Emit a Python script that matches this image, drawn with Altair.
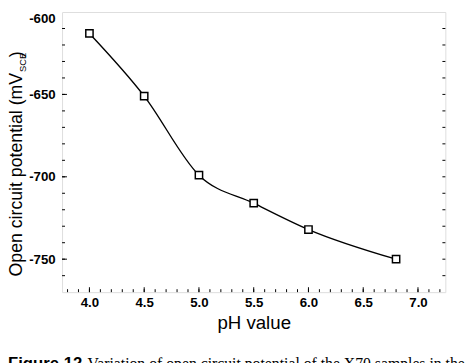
import altair as alt
import pandas as pd

# data
ph = [4.0, 4.5, 5.0, 5.5, 6.0, 6.8]
ocp = [-613, -651, -699, -716, -732, -750]

x_major = [4.0, 4.5, 5.0, 5.5, 6.0, 6.5, 7.0]
x_minor = [round(3.8 + 0.1 * i, 1) for i in range(35)]
y_labels = [-750, -700, -650, -600]
y_major = [-750, -700, -650]
y_minor = list(range(-760, -600, 10))

W, H = 390, 285
TOP = 1
FONT = "Liberation Sans"

df = pd.DataFrame({"ph": ph, "ocp": ocp})
xs = alt.Scale(domain=[3.75, 7.25], nice=False, zero=False)
ys = alt.Scale(domain=[-770, -600], nice=False, zero=False)

line = alt.Chart(df).mark_line(interpolate="monotone", color="black", strokeWidth=1.4).encode(
    x=alt.X("ph:Q", scale=xs,
            axis=alt.Axis(values=x_major, format=".1f", ticks=False, domain=False, grid=False,
                          labelFont=FONT, labelFontSize=13.5, labelFontWeight="bold",
                          labelColor="black", labelPadding=4,
                          title="pH value", titleFont=FONT, titleFontSize=19,
                          titleFontWeight="normal", titleColor="black", titlePadding=5)),
    y=alt.Y("ocp:Q", scale=ys,
            axis=alt.Axis(values=y_labels, labelExpr="'' + datum.value", ticks=False,
                          domain=False, grid=False, labelFlush=True,
                          labelFont=FONT, labelFontSize=13.5, labelFontWeight="bold",
                          labelColor="black", labelPadding=7, title=None)),
)
pts = alt.Chart(df).mark_point(shape="square", filled=True, fill="white", stroke="black",
                               strokeWidth=1.5, size=55, opacity=1).encode(
    x=alt.X("ph:Q", scale=xs), y=alt.Y("ocp:Q", scale=ys))

xmin_df = pd.DataFrame({"v": x_minor})
xmaj_df = pd.DataFrame({"v": x_major})
ymin_df = pd.DataFrame({"v": y_minor})
ymaj_df = pd.DataFrame({"v": y_major})

def xticks(d, ln):
    return alt.Chart(d).mark_rule(color="black", strokeWidth=1).encode(
        x=alt.X("v:Q", scale=xs), y=alt.value(H), y2=alt.value(H - ln))

def yticks(d, ln, right=False):
    x0 = W if right else 0
    x1 = W - ln if right else ln
    return alt.Chart(d).mark_rule(color="black", strokeWidth=1).encode(
        y=alt.Y("v:Q", scale=ys), x=alt.value(x0), x2=alt.value(x1))

tick_layers = [xticks(xmin_df, 3), xticks(xmaj_df, 5),
               yticks(ymin_df, 3), yticks(ymaj_df, 5),
               yticks(ymin_df, 3, True)]

# y title with subscript (page coordinates minus plot origin)
oy = 8 + TOP
t_main = alt.Chart(pd.DataFrame({"t": ["Open circuit potential (mV"]})).mark_text(
    angle=270, align="left", baseline="alphabetic", font=FONT, fontSize=18, color="black").encode(
    text="t:N", x=alt.value(-41), y=alt.value(278 - oy))
t_sub = alt.Chart(pd.DataFrame({"t": ["SCE"]})).mark_text(
    angle=270, align="left", baseline="alphabetic", font=FONT, fontSize=9.5, color="black").encode(
    text="t:N", x=alt.value(-37), y=alt.value(70 - oy))
t_par = alt.Chart(pd.DataFrame({"t": [")"]})).mark_text(
    angle=270, align="left", baseline="alphabetic", font=FONT, fontSize=18, color="black").encode(
    text="t:N", x=alt.value(-41), y=alt.value(55 - oy))

# caption (cut off at the bottom of the page)
cap1 = alt.Chart(pd.DataFrame({"t": ["Figure 12"]})).mark_text(
    align="left", baseline="alphabetic", font=FONT, fontSize=17, fontWeight="bold", color="black").encode(
    text="t:N", x=alt.value(-55), y=alt.value(372 - oy))
cap2 = alt.Chart(pd.DataFrame({"t": ["Variation of open circuit potential of the X70 samples in the different"]})).mark_text(
    align="left", baseline="alphabetic", font="Liberation Serif", fontSize=16, color="black").encode(
    text="t:N", x=alt.value(26), y=alt.value(372 - oy))

chart = alt.layer(*tick_layers, line, pts, t_main, t_sub, t_par, cap1, cap2).properties(
    width=W, height=H,
    autosize=alt.AutoSizeParams(type="none"),
    padding={"left": 55, "top": TOP, "right": 21, "bottom": 355 - TOP - H},
).configure_view(stroke="#222", strokeWidth=1.2).configure(background="white")

chart.save("out.html", embed_options={"renderer": "svg", "actions": False})
